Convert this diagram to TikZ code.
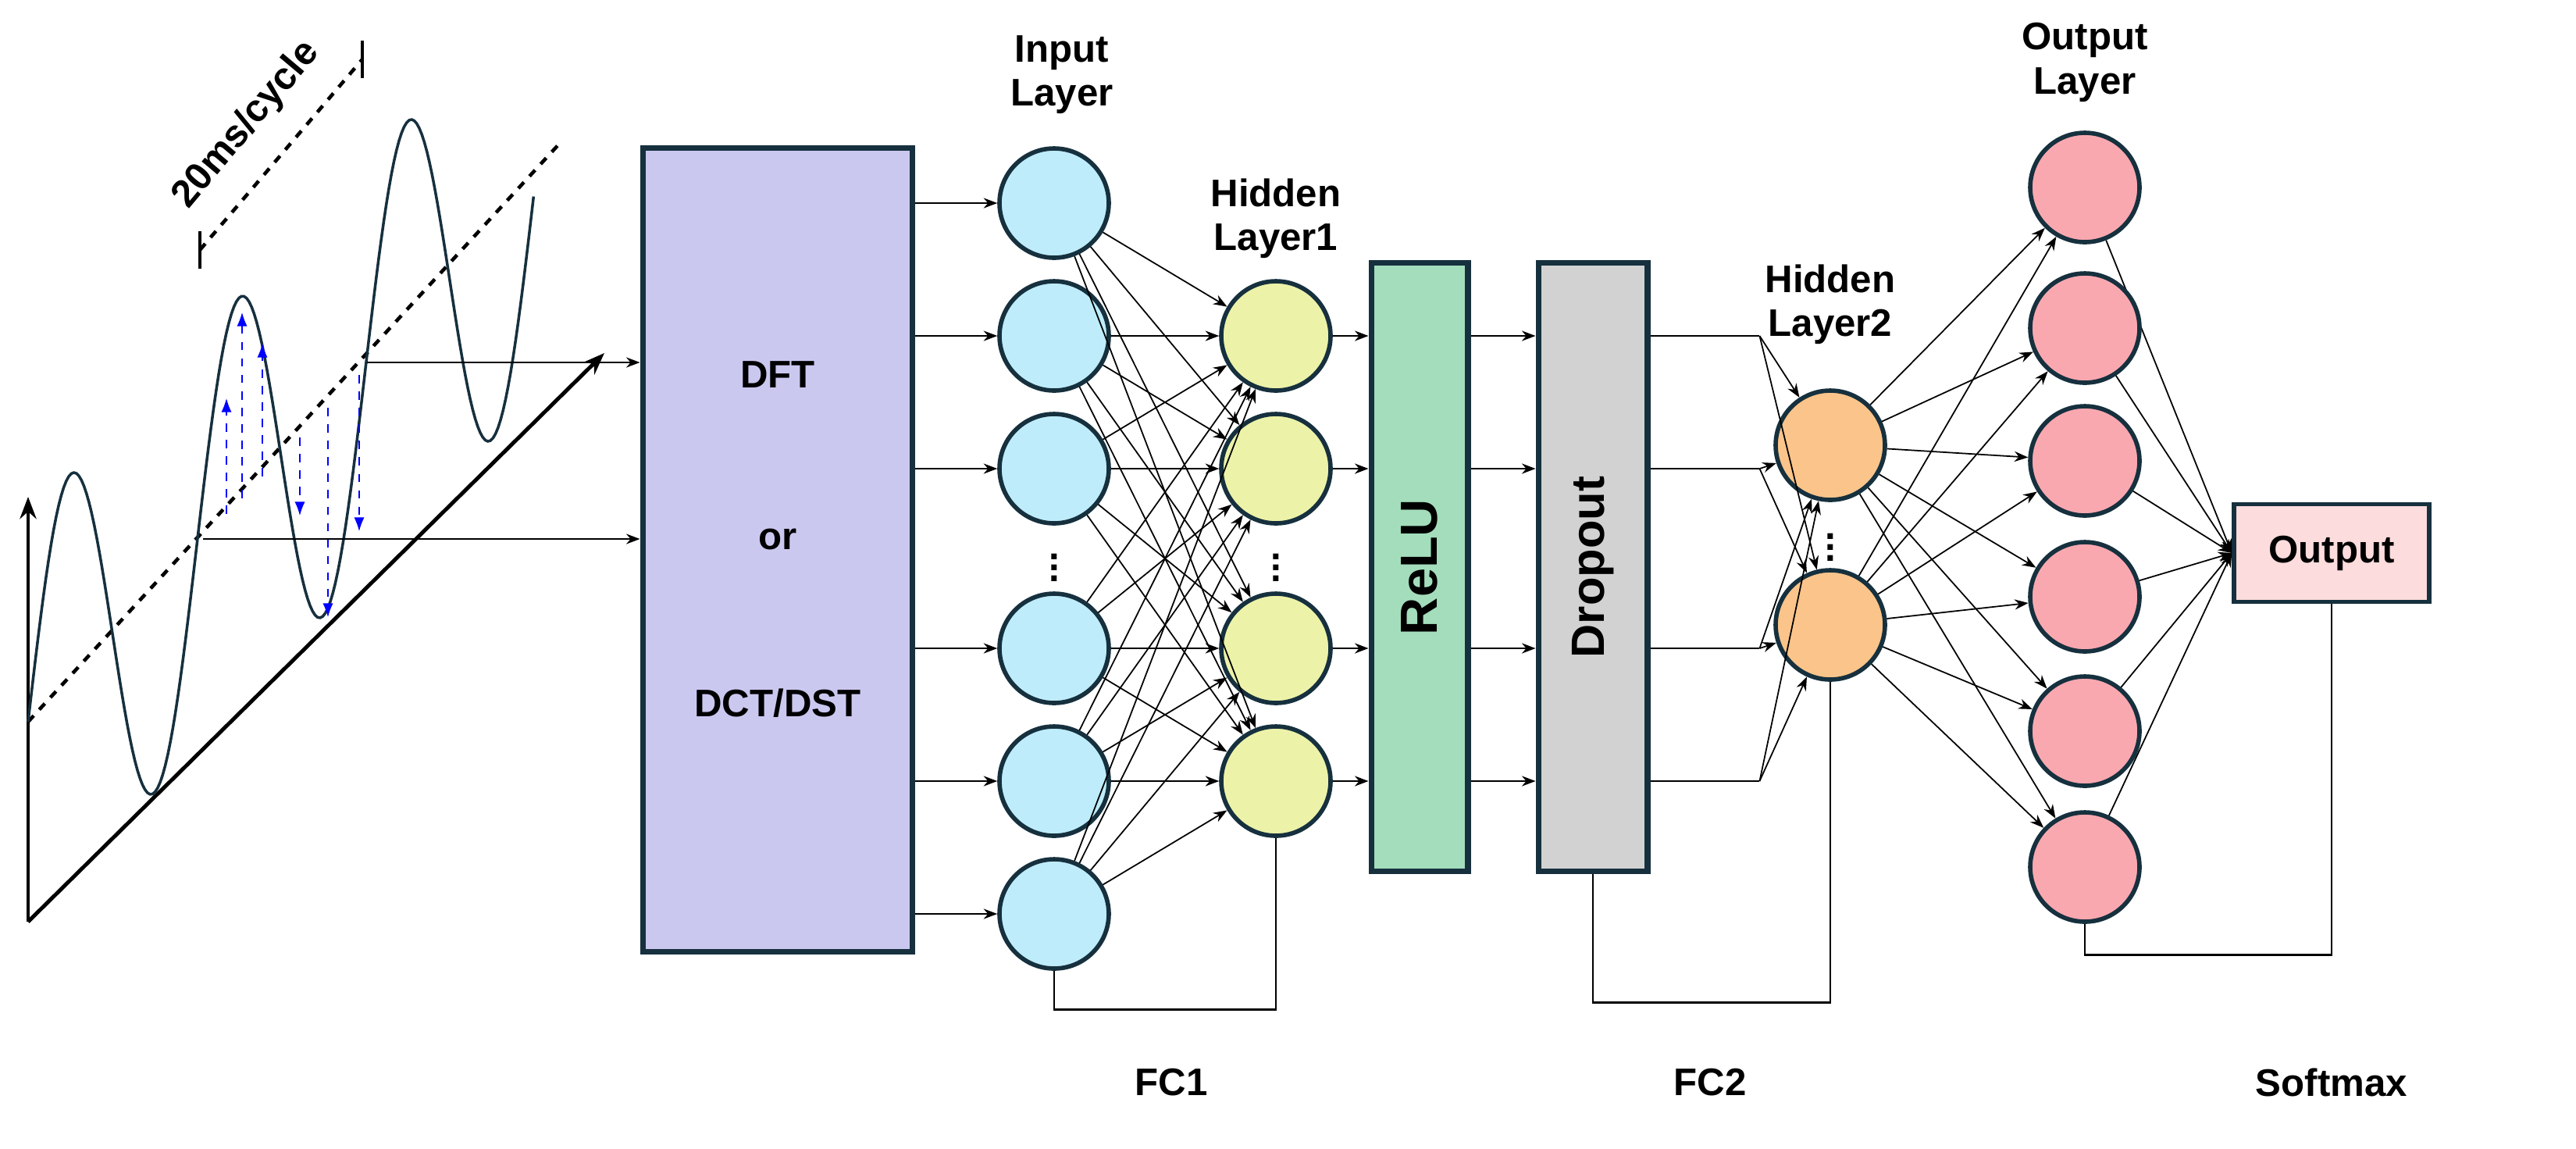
\documentclass[tikz,border=0pt]{standalone}
\usepackage{fontspec}
\setmainfont{Liberation Sans}
\usetikzlibrary{arrows.meta,positioning}
\definecolor{edgeblue}{RGB}{22,48,62}
\definecolor{lavender}{RGB}{203,200,240}
\definecolor{inblue}{RGB}{190,236,250}
\definecolor{hidyellow}{RGB}{236,242,168}
\definecolor{hidorange}{RGB}{250,196,138}
\definecolor{outpink}{RGB}{250,168,176}
\definecolor{relugreen}{RGB}{164,221,188}
\definecolor{dropgray}{RGB}{210,210,210}
\definecolor{boxpink}{RGB}{252,220,220}

\begin{document}
\begin{tikzpicture}
    [
        x=0.02cm, y=-0.02cm,
        font=\fontsize{14}{16}\selectfont\bfseries,
        Neuron/.style={circle, minimum size=1.4cm, draw=edgeblue, line width=1.6pt},
        InNeuron/.style={Neuron, fill=inblue},
        HidNeuron1/.style={Neuron, fill=hidyellow},
        HidNeuron2/.style={Neuron, fill=hidorange},
        OutNeuron/.style={Neuron, fill=outpink},
        Block/.style={rectangle, draw=edgeblue, line width=2pt, inner sep=0pt},
        Conn/.style={-{Stealth[length=5pt]}, line width=0.5pt},
        Label/.style={align=center}
    ]

    \useasboundingbox (0,0) rectangle (1649.5,735);

    % signal
    \draw[line width=1.4pt,-{Stealth[length=8pt]}] (18,590) -- (18,318);
    \draw[line width=1.4pt,-{Stealth[length=8pt]}] (18,590) -- (387,226);
    \draw[dashed, line width=1.3pt] (18,462) -- (360,90);
    \draw[line width=1pt, edgeblue, samples=200, domain=0:3]
        plot ({18+108*\x}, {462-113*\x-130*sin(360*\x)});
    \foreach \xx/\bb/\yy in {145/329/255, 155/319/200, 168/305/220, 192/280/330, 210/261/395, 230/240/340}
        \draw[blue, dashed, -{Latex[length=5pt]}] (\xx,\bb) -- (\xx,\yy);
    \coordinate (sig1) at (130,345);
    \coordinate (sig2) at (235,232);
    \draw[dashed, line width=1.3pt] (128,160) -- (232,38);
    \draw[line width=1.3pt] (128,148) -- (128,172) (232,26) -- (232,50);
    \node[rotate=50] (period) at (158,80) {20ms/cycle};

    % transform
    \node[Block, fill=lavender, minimum width=3.46cm, minimum height=10.3cm] (transform) at (498,352) {};
    \node (dft) at (498,240) {DFT};
    \node (or) at (498,345) {or};
    \node (dct) at (498,450) {DCT/DST};
    \draw[Conn] (sig1) -- (transform.west |- sig1);
    \draw[Conn] (sig2) -- (transform.west |- sig2);

    % input layer
    \foreach \n/\yy in {1/130, 2/215, 3/300, 4/415, 5/500, 6/585}
    {
        \node[InNeuron] (in\n) at (675,\yy) {};
        \draw[Conn] (transform.east |- in\n) -- (in\n);
    }
    \node (indots) at (675,358) {$\vdots$};
    \node[Label] (inlabel) at (680,48) {Input\\Layer};

    % hidden layer 1
    \foreach \n/\yy in {1/215, 2/300, 3/415, 4/500}
        \node[HidNeuron1] (ha\n) at (817,\yy) {};
    \node (hadots) at (817,358) {$\vdots$};
    \node[Label] (halabel) at (817,140) {Hidden\\Layer1};
    \foreach \i in {1,...,6}
        \foreach \j in {1,...,4}
            \draw[Conn] (in\i) -- (ha\j);
    \draw[line width=0.8pt] (in6.south) -- ++(0,25) -| (ha4.south);
    \node (fc1) at (750,693) {FC1};

    % relu and dropout
    \node[Block, fill=relugreen, minimum width=1.24cm, minimum height=7.8cm] (relu) at (909,363) {};
    \node[rotate=90, font=\fontsize{19}{20}\selectfont\bfseries] (relutext) at (909,363) {ReLU};
    \node[Block, fill=dropgray, minimum width=1.4cm, minimum height=7.8cm] (dropout) at (1020,363) {};
    \node[rotate=90, font=\fontsize{17}{18}\selectfont\bfseries] (droptext) at (1020,363) {Dropout};
    \foreach \j in {1,...,4}
    {
        \draw[Conn] (ha\j) -- (relu.west |- ha\j);
        \draw[Conn] (relu.east |- ha\j) -- (dropout.west |- ha\j);
    }

    % hidden layer 2
    \node[HidNeuron2] (hb1) at (1172,285) {};
    \node[HidNeuron2] (hb2) at (1172,400) {};
    \node (hbdots) at (1172,345) {$\vdots$};
    \node[Label] (hblabel) at (1172,195) {Hidden\\Layer2};
    \foreach \j in {1,...,4}
    {
        \coordinate (fan\j) at ([xshift=1.4cm]dropout.east |- ha\j);
        \draw[line width=0.5pt] (dropout.east |- ha\j) -- (fan\j);
        \draw[Conn] (fan\j) -- (hb1);
        \draw[Conn] (fan\j) -- (hb2);
    }
    \draw[line width=0.8pt] (dropout.south) -- ++(0,82) -| (hb2.south);
    \node (fc2) at (1095,693) {FC2};

    % output layer
    \node[Block, fill=boxpink, minimum width=2.5cm, minimum height=1.25cm, line width=1.6pt] (outbox) at (1493,354) {Output};
    \foreach \n/\yy in {1/120, 2/210, 3/295, 4/382, 5/468, 6/555}
    {
        \node[OutNeuron] (out\n) at (1335,\yy) {};
        \draw[Conn] (hb1) -- (out\n);
        \draw[Conn] (hb2) -- (out\n);
        \draw[Conn] (out\n) -- (outbox.west);
    }
    \node[Label] (outlabel) at (1335,40) {Output\\Layer};
    \draw[line width=0.8pt] (out6.south) -- ++(0,20) -| (outbox.south);
    \node (softmax) at (1493,693) {Softmax};
\end{tikzpicture}
\end{document}
